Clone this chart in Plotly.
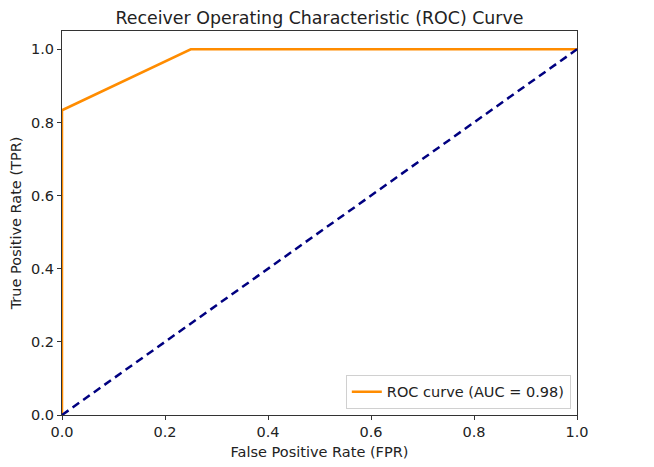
import plotly.graph_objects as go

fpr = [0.0, 0.0, 0.25, 1.0]
tpr = [0.0, 0.8333, 1.0, 1.0]
diag_x = [0.0, 1.0]
diag_y = [0.0, 1.0]
auc_label = "ROC curve (AUC = 0.98)"
tick_vals = [0.0, 0.2, 0.4, 0.6, 0.8, 1.0]

# page body has an 8px offset; compensate so the plot area sits at 62..577 x 31..415
OFF = 8
L, R, T, B = 62 - OFF, 654 - (577 - OFF), 31 - OFF, 467 - (415 - OFF)

fig = go.Figure()
fig.add_trace(go.Scatter(x=fpr, y=tpr, mode="lines", name=auc_label,
                         line=dict(color="#FF8C00", width=2.5)))
fig.add_trace(go.Scatter(x=diag_x, y=diag_y, mode="lines", showlegend=False,
                         line=dict(color="#000080", width=2.5, dash="8px,5px")))

axis_common = dict(showgrid=False, zeroline=False, showline=True, linecolor="#333",
                   linewidth=1, mirror=True, ticks="outside", ticklen=4,
                   tickcolor="#333", tickformat=".1f", tickvals=tick_vals,
                   tickfont=dict(size=14.5, color="#222"), automargin=False)

fig.update_layout(
    width=654, height=467,
    margin=dict(l=L, r=R, t=T, b=B),
    paper_bgcolor="white", plot_bgcolor="white",
    font=dict(family="DejaVu Sans", color="#222"),
    title=dict(text="Receiver Operating Characteristic (ROC) Curve",
               x=((62 + 577) / 2 - OFF) / 654, xanchor="center",
               y=1 - 10 / 467, yanchor="middle",
               font=dict(size=17.4), automargin=False),
    xaxis=dict(range=[0, 1], title=dict(text="False Positive Rate (FPR)",
               font=dict(size=14.5), standoff=7), **axis_common),
    yaxis=dict(range=[0, 1.05], title=dict(text="True Positive Rate (TPR)",
               font=dict(size=14.5), standoff=12), **axis_common),
    legend=dict(x=0.988, y=0.016, xanchor="right", yanchor="bottom",
                bordercolor="#d0d0d0", borderwidth=1, bgcolor="rgba(255,255,255,0.8)",
                font=dict(size=14.5), itemwidth=30),
)

fig.write_html("out.html")
